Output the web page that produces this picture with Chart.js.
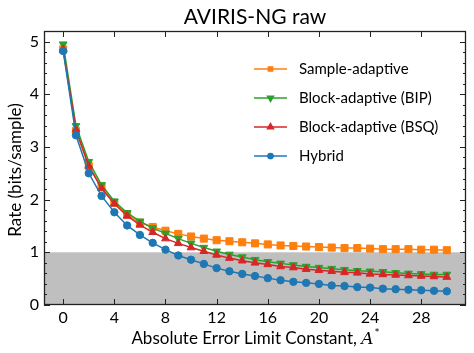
<!DOCTYPE html>
<html>
<head>
<meta charset="utf-8">
<script src="https://cdn.jsdelivr.net/npm/chart.js@4.4.0/dist/chart.umd.min.js"></script>
<style>
  body { margin: 0; background: #fff; }
  #wrap { width: 474px; height: 353px; }
</style>
</head>
<body>
<div id="wrap"><canvas id="myChart"></canvas></div>
<script>
// values
const errorLimits = [0,1,2,3,4,5,6,7,8,9,10,11,12,13,14,15,16,17,18,19,20,21,22,23,24,25,26,27,28,29,30];
const sampleAdaptive = [4.85,3.30,2.64,2.24,1.94,1.72,1.56,1.48,1.41,1.35,1.30,1.26,1.23,1.21,1.19,1.17,1.15,1.13,1.12,1.11,1.10,1.09,1.08,1.08,1.07,1.06,1.06,1.06,1.05,1.05,1.04];
const blockBIP = [4.95,3.40,2.72,2.28,1.97,1.75,1.59,1.46,1.36,1.26,1.17,1.09,1.02,0.96,0.91,0.86,0.82,0.79,0.76,0.73,0.71,0.69,0.67,0.65,0.64,0.63,0.61,0.60,0.59,0.58,0.58];
const blockBSQ = [4.85,3.33,2.64,2.21,1.92,1.69,1.52,1.38,1.26,1.17,1.09,1.02,0.95,0.89,0.84,0.80,0.77,0.73,0.71,0.68,0.66,0.64,0.62,0.61,0.59,0.58,0.57,0.56,0.55,0.54,0.53];
const hybrid = [4.82,3.22,2.50,2.07,1.76,1.51,1.33,1.18,1.05,0.94,0.86,0.78,0.70,0.64,0.59,0.55,0.51,0.47,0.44,0.42,0.40,0.37,0.36,0.34,0.33,0.31,0.30,0.29,0.28,0.27,0.26];

const seriesLabels = ['Sample-adaptive', 'Block-adaptive (BIP)', 'Block-adaptive (BSQ)', 'Hybrid'];
const xTickValues = [0,4,8,12,16,20,24,28];
const yTickValues = [0,1,2,3,4,5];
const shadedLimit = 1;   // rates below 1 bit/sample are shaded

const FONT = 'Lato';

function points(ys) {
    return errorLimits.map((x, i) => ({x: x, y: ys[i]}));
}

function series(label, ys, color, style, radius, rotation, order) {
    return {
        label: label,
        data: points(ys),
        borderColor: color,
        backgroundColor: color,
        borderWidth: 1.5,
        pointStyle: style,
        pointRadius: radius,
        pointRotation: rotation,
        pointBorderWidth: 1,
        pointBackgroundColor: color,
        pointBorderColor: color,
        tension: 0,
        order: order
    };
}

const datasets = [
    series(seriesLabels[0], sampleAdaptive, '#ff7f0e', 'rect', 5, 0, 4),
    series(seriesLabels[1], blockBIP, '#2ca02c', 'triangle', 4.5, 180, 3),
    series(seriesLabels[2], blockBSQ, '#d62728', 'triangle', 4.5, 0, 2),
    series(seriesLabels[3], hybrid, '#1f77b4', 'circle', 3.7, 0, 1)
];

// shaded band, frame, inward ticks, legend and titles
const decorations = {
    id: 'decorations',
    beforeDatasetsDraw(chart) {
        const {ctx, chartArea: a, scales: {y}} = chart;
        const top = y.getPixelForValue(shadedLimit);
        const bot = y.getPixelForValue(0);
        ctx.save();
        ctx.fillStyle = '#bfbfbf';
        ctx.fillRect(a.left, top, a.right - a.left, bot - top);
        ctx.restore();
    },
    afterDraw(chart) {
        const {ctx, chartArea: a, scales: {x, y}} = chart;
        ctx.save();
        ctx.strokeStyle = '#222';
        ctx.lineWidth = 1;
        ctx.beginPath();
        xTickValues.forEach(v => {
            const px = Math.round(x.getPixelForValue(v)) + 0.5;
            ctx.moveTo(px, a.bottom); ctx.lineTo(px, a.bottom - 6);
            ctx.moveTo(px, a.top); ctx.lineTo(px, a.top + 6);
        });
        yTickValues.forEach(v => {
            const py = Math.round(y.getPixelForValue(v)) + 0.5;
            ctx.moveTo(a.left, py); ctx.lineTo(a.left + 6, py);
            ctx.moveTo(a.right, py); ctx.lineTo(a.right - 6, py);
        });
        for (let v = 0.2; v < 5.2; v += 0.2) {
            if (Math.abs(v - Math.round(v)) < 0.01) continue;
            const py = Math.round(y.getPixelForValue(v)) + 0.5;
            ctx.moveTo(a.left, py); ctx.lineTo(a.left + 3, py);
            ctx.moveTo(a.right, py); ctx.lineTo(a.right - 3, py);
        }
        ctx.stroke();

        ctx.lineWidth = 1.3;
        ctx.strokeRect(a.left + 0.5, a.top + 0.5, a.right - a.left - 1, a.bottom - a.top - 1);

        // legend
        const rows = [69, 98, 127, 156];
        const legendRadius = [3, 3.4, 3.4, 2.6];
        datasets.forEach((ds, i) => {
            const yy = rows[i];
            ctx.strokeStyle = ds.borderColor;
            ctx.fillStyle = ds.borderColor;
            ctx.lineWidth = 1.5;
            ctx.beginPath();
            ctx.moveTo(254, yy); ctx.lineTo(287, yy);
            ctx.stroke();
            Chart.helpers.drawPoint(ctx, {
                pointStyle: ds.pointStyle,
                radius: legendRadius[i],
                rotation: ds.pointRotation,
                borderWidth: 1
            }, 270.5, yy);
            ctx.fillStyle = '#000';
            ctx.font = '15px ' + FONT;
            ctx.textBaseline = 'middle';
            ctx.textAlign = 'left';
            ctx.fillText(ds.label, 299, yy);
        });

        // title
        const cx = (a.left + a.right) / 2;
        ctx.fillStyle = '#000';
        ctx.textAlign = 'center';
        ctx.textBaseline = 'alphabetic';
        ctx.font = '21px ' + FONT;
        ctx.fillText('AVIRIS-NG raw', cx, 24);

        // x axis title with italic A and superscript star
        const plain = 'Absolute Error Limit Constant, ';
        ctx.font = '17px ' + FONT;
        const w1 = ctx.measureText(plain).width;
        ctx.font = 'italic 17px "DejaVu Serif"';
        const w2 = ctx.measureText('A').width;
        ctx.font = '12px ' + FONT;
        const w3 = ctx.measureText('*').width;
        let sx = cx - (w1 + w2 + w3) / 2;
        ctx.textAlign = 'left';
        ctx.font = '17px ' + FONT;
        ctx.fillText(plain, sx, 344);
        sx += w1;
        ctx.font = 'italic 17px "DejaVu Serif"';
        ctx.fillText('A', sx, 344);
        sx += w2;
        ctx.font = '12px ' + FONT;
        ctx.fillText('*', sx + 1, 337);

        // y axis title
        ctx.save();
        ctx.translate(16, (a.top + a.bottom) / 2 + 2);
        ctx.rotate(-Math.PI / 2);
        ctx.textAlign = 'center';
        ctx.textBaseline = 'middle';
        ctx.font = '17px ' + FONT;
        ctx.fillText('Rate (bits/sample)', 0, 0);
        ctx.restore();

        ctx.restore();
    }
};

const ctx = document.getElementById('myChart').getContext('2d');
const myChart = new Chart(ctx, {
    type: 'line',
    data: { datasets: datasets },
    options: {
        responsive: true,
        maintainAspectRatio: false,
        animation: false,
        events: [],
        layout: { padding: { top: 31, right: 8, left: 0, bottom: 0 } },
        plugins: {
            legend: { display: false },
            tooltip: { enabled: false },
            title: { display: false }
        },
        scales: {
            x: {
                type: 'linear',
                min: -1.5,
                max: 31.5,
                grid: { display: false, drawTicks: false },
                border: { display: false },
                afterBuildTicks: scale => { scale.ticks = xTickValues.map(v => ({value: v})); },
                afterFit: scale => { scale.height = 48; },
                ticks: { color: '#000', padding: 3, maxRotation: 0, font: { family: FONT, size: 16 } }
            },
            y: {
                type: 'linear',
                min: 0,
                max: 5.2,
                grid: { display: false, drawTicks: false },
                border: { display: false },
                afterBuildTicks: scale => { scale.ticks = yTickValues.map(v => ({value: v})); },
                afterFit: scale => { scale.width = 44; },
                ticks: { color: '#000', padding: 5, font: { family: FONT, size: 16 } }
            }
        }
    },
    plugins: [decorations]
});
</script>
</body>
</html>
